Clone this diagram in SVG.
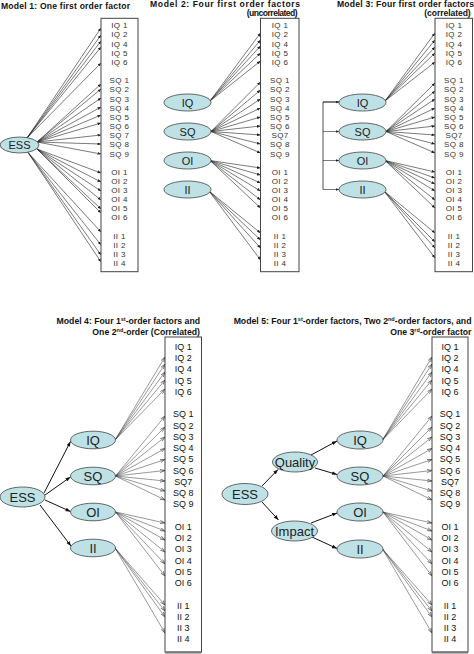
<svg xmlns="http://www.w3.org/2000/svg" width="474" height="654" viewBox="0 0 474 654">
<style>
text{font-family:"Liberation Sans",Arial,sans-serif}
.ttl{font-weight:bold;font-size:8.6px;fill:#111}
.ttl2{font-weight:bold;font-size:8.7px;fill:#111;text-anchor:end}
.lt{font-size:8px;fill:#333;text-anchor:middle;letter-spacing:0.4px}
.lb{font-size:9px;fill:#111;text-anchor:middle}
.et{font-size:11px;fill:#222;text-anchor:middle}
.eb{font-size:13px;fill:#222;text-anchor:middle}
.ell{fill:#bde1e5;stroke:#444;stroke-width:0.8}
.box{fill:#fff;stroke:#444;stroke-width:1}
.c1{stroke:#222;stroke-width:0.6;fill:none;marker-end:url(#mA)}
.c2{stroke:#333;stroke-width:0.5;fill:none;marker-end:url(#mB)}
.c3{stroke:#111;stroke-width:1;fill:none;marker-end:url(#mC)}
.c0{stroke:#222;stroke-width:0.8;fill:none}
</style>
<defs>
<marker id="mA" viewBox="0 0 7 6" refX="7" refY="3" markerWidth="3.5" markerHeight="3" markerUnits="userSpaceOnUse" orient="auto"><path d="M0,0 L7,3 L0,6z" fill="#222"/></marker>
<marker id="mB" viewBox="0 0 8 6" refX="8" refY="3" markerWidth="5" markerHeight="4" markerUnits="userSpaceOnUse" orient="auto"><path d="M0,0.5 L8,3 L0,5.5" fill="none" stroke="#333" stroke-width="1"/></marker>
<marker id="mC" viewBox="0 0 8 6" refX="8" refY="3" markerWidth="5" markerHeight="4" markerUnits="userSpaceOnUse" orient="auto"><path d="M0,0 L8,3 L0,6z" fill="#111"/></marker>
</defs>

<g id="titles">
<text class="ttl" x="1" y="8.7" textLength="129" lengthAdjust="spacing">Model 1: One first order factor</text>
<text class="ttl" x="150" y="6.5" textLength="150" lengthAdjust="spacing">Model 2: Four first order factors</text>
<text class="ttl" x="246.7" y="15.5" textLength="51" lengthAdjust="spacing">(uncorrelated)</text>
<text class="ttl" x="337" y="6.5" textLength="137" lengthAdjust="spacing">Model 3: Four first order factors</text>
<text class="ttl" x="424.3" y="15.5" textLength="46.4" lengthAdjust="spacing">(correlated)</text>
<text class="ttl2" x="200" y="323.8">Model 4: Four 1<tspan font-size="5.5" dy="-3">st</tspan><tspan dy="3">-order factors and</tspan></text>
<text class="ttl2" x="200" y="334.8">One 2<tspan font-size="5.5" dy="-3">nd</tspan><tspan dy="3">-order (Correlated)</tspan></text>
<text class="ttl2" x="471.5" y="323.8">Model 5: Four 1<tspan font-size="5.5" dy="-3">st</tspan><tspan dy="3">-order factors, Two 2</tspan><tspan font-size="5.5" dy="-3">nd</tspan><tspan dy="3">-order factors, and</tspan></text>
<text class="ttl2" x="471.5" y="334.8">One 3<tspan font-size="5.5" dy="-3">rd</tspan><tspan dy="3">-order factor</tspan></text>
</g>

<g id="connectors">
<!-- Model 1 -->
<line class="c1" x1="27" y1="138" x2="101" y2="28"/>
<line class="c1" x1="27" y1="138" x2="101" y2="35"/>
<line class="c1" x1="27" y1="138" x2="101" y2="41"/>
<line class="c1" x1="27" y1="138" x2="101" y2="47"/>
<line class="c1" x1="27" y1="138" x2="101" y2="63"/>
<line class="c1" x1="37" y1="142" x2="101" y2="84"/>
<line class="c1" x1="37" y1="142" x2="101" y2="89"/>
<line class="c1" x1="37" y1="142" x2="101" y2="98"/>
<line class="c1" x1="37" y1="142" x2="101" y2="107"/>
<line class="c1" x1="37" y1="142" x2="101" y2="115"/>
<line class="c1" x1="37" y1="142" x2="101" y2="123"/>
<line class="c1" x1="37" y1="142" x2="101" y2="135"/>
<line class="c1" x1="37" y1="142" x2="101" y2="144"/>
<line class="c1" x1="37" y1="142" x2="101" y2="154"/>
<line class="c1" x1="37" y1="149" x2="101" y2="173"/>
<line class="c1" x1="37" y1="149" x2="101" y2="182"/>
<line class="c1" x1="37" y1="149" x2="101" y2="191"/>
<line class="c1" x1="37" y1="149" x2="101" y2="200"/>
<line class="c1" x1="37" y1="149" x2="101" y2="209"/>
<line class="c1" x1="37" y1="149" x2="101" y2="213"/>
<line class="c1" x1="28" y1="152.5" x2="101" y2="232"/>
<line class="c1" x1="28" y1="152.5" x2="101" y2="245"/>
<line class="c1" x1="28" y1="152.5" x2="101" y2="255"/>
<line class="c1" x1="28" y1="152.5" x2="101" y2="262"/>
<!-- Model 2 -->
<line class="c1" x1="210" y1="101" x2="260.5" y2="33"/>
<line class="c1" x1="210" y1="101" x2="260.5" y2="40"/>
<line class="c1" x1="210" y1="101" x2="260.5" y2="46"/>
<line class="c1" x1="210" y1="101" x2="260.5" y2="53"/>
<line class="c1" x1="210" y1="101" x2="260.5" y2="61"/>
<line class="c1" x1="211" y1="131.5" x2="260.5" y2="82"/>
<line class="c1" x1="211" y1="131.5" x2="260.5" y2="90"/>
<line class="c1" x1="211" y1="131.5" x2="260.5" y2="99"/>
<line class="c1" x1="211" y1="131.5" x2="260.5" y2="108"/>
<line class="c1" x1="211" y1="131.5" x2="260.5" y2="117"/>
<line class="c1" x1="211" y1="131.5" x2="260.5" y2="126"/>
<line class="c1" x1="211" y1="131.5" x2="260.5" y2="135"/>
<line class="c1" x1="211" y1="131.5" x2="260.5" y2="144"/>
<line class="c1" x1="211" y1="131.5" x2="260.5" y2="153"/>
<line class="c1" x1="210" y1="160.5" x2="260.5" y2="168"/>
<line class="c1" x1="210" y1="160.5" x2="260.5" y2="175"/>
<line class="c1" x1="210" y1="160.5" x2="260.5" y2="183"/>
<line class="c1" x1="210" y1="160.5" x2="260.5" y2="191"/>
<line class="c1" x1="210" y1="160.5" x2="260.5" y2="200"/>
<line class="c1" x1="210" y1="160.5" x2="260.5" y2="208"/>
<line class="c1" x1="209" y1="191" x2="260.5" y2="233"/>
<line class="c1" x1="209" y1="191" x2="260.5" y2="240"/>
<line class="c1" x1="209" y1="191" x2="260.5" y2="248"/>
<line class="c1" x1="209" y1="191" x2="260.5" y2="260"/>
<!-- Model 3 -->
<path class="c0" d="M339,102 H323 V189.5"/>
<line class="c1" x1="323" y1="102" x2="339" y2="102"/>
<line class="c1" x1="323" y1="131.5" x2="339" y2="131.5"/>
<line class="c1" x1="323" y1="160.5" x2="339" y2="160.5"/>
<line class="c1" x1="323" y1="189.5" x2="339" y2="189.5"/>
<line class="c1" x1="385" y1="101" x2="435" y2="33"/>
<line class="c1" x1="385" y1="101" x2="435" y2="40"/>
<line class="c1" x1="385" y1="101" x2="435" y2="47"/>
<line class="c1" x1="385" y1="101" x2="435" y2="53"/>
<line class="c1" x1="385" y1="101" x2="435" y2="62"/>
<line class="c1" x1="386" y1="131.5" x2="435" y2="83"/>
<line class="c1" x1="386" y1="131.5" x2="435" y2="91"/>
<line class="c1" x1="386" y1="131.5" x2="435" y2="99"/>
<line class="c1" x1="386" y1="131.5" x2="435" y2="108"/>
<line class="c1" x1="386" y1="131.5" x2="435" y2="117"/>
<line class="c1" x1="386" y1="131.5" x2="435" y2="126"/>
<line class="c1" x1="386" y1="131.5" x2="435" y2="135"/>
<line class="c1" x1="386" y1="131.5" x2="435" y2="144"/>
<line class="c1" x1="386" y1="131.5" x2="435" y2="153"/>
<line class="c1" x1="385" y1="160.5" x2="435" y2="172"/>
<line class="c1" x1="385" y1="160.5" x2="435" y2="178"/>
<line class="c1" x1="385" y1="160.5" x2="435" y2="184"/>
<line class="c1" x1="385" y1="160.5" x2="435" y2="191"/>
<line class="c1" x1="385" y1="160.5" x2="435" y2="200"/>
<line class="c1" x1="385" y1="160.5" x2="435" y2="208"/>
<line class="c1" x1="384" y1="191" x2="435" y2="233"/>
<line class="c1" x1="384" y1="191" x2="435" y2="242"/>
<line class="c1" x1="384" y1="191" x2="435" y2="248"/>
<line class="c1" x1="384" y1="191" x2="435" y2="258"/>
<!-- Model 4 -->
<line class="c3" x1="44" y1="493" x2="70.5" y2="441.5"/>
<line class="c3" x1="45" y1="495" x2="70.5" y2="477"/>
<line class="c3" x1="45" y1="500" x2="70.5" y2="511.5"/>
<line class="c3" x1="40" y1="505" x2="71" y2="546"/>
<line class="c2" x1="115" y1="440" x2="165" y2="357"/>
<line class="c2" x1="115" y1="440" x2="165" y2="364"/>
<line class="c2" x1="115" y1="440" x2="165" y2="372"/>
<line class="c2" x1="115" y1="440" x2="165" y2="380"/>
<line class="c2" x1="115" y1="440" x2="165" y2="389"/>
<line class="c2" x1="115.5" y1="476" x2="165" y2="416"/>
<line class="c2" x1="115.5" y1="476" x2="165" y2="427"/>
<line class="c2" x1="115.5" y1="476" x2="165" y2="437"/>
<line class="c2" x1="115.5" y1="476" x2="165" y2="448.5"/>
<line class="c2" x1="115.5" y1="476" x2="165" y2="459.5"/>
<line class="c2" x1="115.5" y1="476" x2="165" y2="470.5"/>
<line class="c2" x1="115.5" y1="476" x2="165" y2="481"/>
<line class="c2" x1="115.5" y1="476" x2="165" y2="491"/>
<line class="c2" x1="115.5" y1="476" x2="165" y2="500"/>
<line class="c2" x1="115.5" y1="512" x2="165" y2="523"/>
<line class="c2" x1="115.5" y1="512" x2="165" y2="531"/>
<line class="c2" x1="115.5" y1="512" x2="165" y2="540"/>
<line class="c2" x1="115.5" y1="512" x2="165" y2="552"/>
<line class="c2" x1="115.5" y1="512" x2="165" y2="564"/>
<line class="c2" x1="115.5" y1="512" x2="165" y2="576"/>
<line class="c2" x1="115" y1="548" x2="165" y2="605"/>
<line class="c2" x1="115" y1="548" x2="165" y2="611"/>
<line class="c2" x1="115" y1="548" x2="165" y2="617"/>
<line class="c2" x1="115" y1="548" x2="165" y2="633"/>
<!-- Model 5 -->
<line class="c3" x1="262" y1="486" x2="278" y2="469.5"/>
<line class="c3" x1="262" y1="502" x2="278.5" y2="520"/>
<line class="c3" x1="311" y1="455" x2="337" y2="441"/>
<line class="c3" x1="315" y1="468" x2="337" y2="474.5"/>
<line class="c3" x1="311" y1="523" x2="337" y2="513"/>
<line class="c3" x1="312" y1="537" x2="337" y2="548.5"/>
<line class="c2" x1="382.5" y1="440" x2="432" y2="357"/>
<line class="c2" x1="382.5" y1="440" x2="432" y2="364"/>
<line class="c2" x1="382.5" y1="440" x2="432" y2="372"/>
<line class="c2" x1="382.5" y1="440" x2="432" y2="380"/>
<line class="c2" x1="382.5" y1="440" x2="432" y2="389"/>
<line class="c2" x1="383" y1="476" x2="432" y2="416"/>
<line class="c2" x1="383" y1="476" x2="432" y2="427"/>
<line class="c2" x1="383" y1="476" x2="432" y2="437"/>
<line class="c2" x1="383" y1="476" x2="432" y2="448.5"/>
<line class="c2" x1="383" y1="476" x2="432" y2="459.5"/>
<line class="c2" x1="383" y1="476" x2="432" y2="470.5"/>
<line class="c2" x1="383" y1="476" x2="432" y2="481"/>
<line class="c2" x1="383" y1="476" x2="432" y2="491"/>
<line class="c2" x1="383" y1="476" x2="432" y2="500"/>
<line class="c2" x1="383" y1="512" x2="432" y2="523"/>
<line class="c2" x1="383" y1="512" x2="432" y2="531"/>
<line class="c2" x1="383" y1="512" x2="432" y2="540"/>
<line class="c2" x1="383" y1="512" x2="432" y2="552"/>
<line class="c2" x1="383" y1="512" x2="432" y2="564"/>
<line class="c2" x1="383" y1="512" x2="432" y2="576"/>
<line class="c2" x1="382.5" y1="549" x2="432" y2="605"/>
<line class="c2" x1="382.5" y1="549" x2="432" y2="611"/>
<line class="c2" x1="382.5" y1="549" x2="432" y2="617"/>
<line class="c2" x1="382.5" y1="549" x2="432" y2="633"/>
</g>

<!-- Model 1 nodes -->
<g id="m1-ess"><ellipse class="ell" cx="19.5" cy="145" rx="19.5" ry="8"/><text class="et" x="19.5" y="149">ESS</text></g>
<g id="m1-items">
<rect class="box" x="101" y="18.3" width="37" height="253.4"/>
<text class="lt" x="119.5" y="28.4">IQ 1</text><text class="lt" x="119.5" y="37.4">IQ 2</text><text class="lt" x="119.5" y="46.7">IQ 4</text><text class="lt" x="119.5" y="55.9">IQ 5</text><text class="lt" x="119.5" y="64.9">IQ 6</text>
<text class="lt" x="119.5" y="83.4">SQ 1</text><text class="lt" x="119.5" y="92.4">SQ 2</text><text class="lt" x="119.5" y="101.6">SQ 3</text><text class="lt" x="119.5" y="110.7">SQ 4</text><text class="lt" x="119.5" y="119.9">SQ 5</text><text class="lt" x="119.5" y="128.9">SQ 6</text><text class="lt" x="119.5" y="138.2">SQ 7</text><text class="lt" x="119.5" y="147.4">SQ 8</text><text class="lt" x="119.5" y="156.5">SQ 9</text>
<text class="lt" x="119.5" y="175.4">OI 1</text><text class="lt" x="119.5" y="184.4">OI 2</text><text class="lt" x="119.5" y="193.4">OI 3</text><text class="lt" x="119.5" y="202.4">OI 4</text><text class="lt" x="119.5" y="211.4">OI 5</text><text class="lt" x="119.5" y="220.4">OI 6</text>
<text class="lt" x="119.5" y="238.9">II 1</text><text class="lt" x="119.5" y="247.9">II 2</text><text class="lt" x="119.5" y="257.1">II 3</text><text class="lt" x="119.5" y="266.3">II 4</text>
</g>

<!-- Model 2 nodes -->
<g id="m2-iq"><ellipse class="ell" cx="187.5" cy="102.5" rx="23.5" ry="8.5"/><text class="et" x="187.5" y="106.5">IQ</text></g>
<g id="m2-sq"><ellipse class="ell" cx="187.5" cy="131.5" rx="23.5" ry="8.5"/><text class="et" x="187.5" y="135.5">SQ</text></g>
<g id="m2-oi"><ellipse class="ell" cx="187.5" cy="160.5" rx="23.5" ry="8.5"/><text class="et" x="187.5" y="164.5">OI</text></g>
<g id="m2-ii"><ellipse class="ell" cx="187.5" cy="189.5" rx="23.5" ry="8.5"/><text class="et" x="187.5" y="193.5">II</text></g>
<g id="m2-items">
<rect class="box" x="260.5" y="18.3" width="38.5" height="253.4"/>
<text class="lt" x="280" y="28.4">IQ 1</text><text class="lt" x="280" y="37.4">IQ 2</text><text class="lt" x="280" y="46.7">IQ 4</text><text class="lt" x="280" y="55.9">IQ 5</text><text class="lt" x="280" y="64.9">IQ 6</text>
<text class="lt" x="280" y="83.4">SQ 1</text><text class="lt" x="280" y="92.4">SQ 2</text><text class="lt" x="280" y="101.6">SQ 3</text><text class="lt" x="280" y="110.7">SQ 4</text><text class="lt" x="280" y="119.9">SQ 5</text><text class="lt" x="280" y="128.9">SQ 6</text><text class="lt" x="280" y="138.2">SQ7</text><text class="lt" x="280" y="147.4">SQ 8</text><text class="lt" x="280" y="156.5">SQ 9</text>
<text class="lt" x="280" y="175.4">OI 1</text><text class="lt" x="280" y="184.4">OI 2</text><text class="lt" x="280" y="193.4">OI 3</text><text class="lt" x="280" y="202.4">OI 4</text><text class="lt" x="280" y="211.4">OI 5</text><text class="lt" x="280" y="220.4">OI 6</text>
<text class="lt" x="280" y="238.9">II 1</text><text class="lt" x="280" y="247.9">II 2</text><text class="lt" x="280" y="257.1">II 3</text><text class="lt" x="280" y="266.3">II 4</text>
</g>

<!-- Model 3 nodes -->
<g id="m3-iq"><ellipse class="ell" cx="362.5" cy="102.5" rx="23.5" ry="8.5"/><text class="et" x="362.5" y="106.5">IQ</text></g>
<g id="m3-sq"><ellipse class="ell" cx="362.5" cy="131.5" rx="23.5" ry="8.5"/><text class="et" x="362.5" y="135.5">SQ</text></g>
<g id="m3-oi"><ellipse class="ell" cx="362.5" cy="160.5" rx="23.5" ry="8.5"/><text class="et" x="362.5" y="164.5">OI</text></g>
<g id="m3-ii"><ellipse class="ell" cx="362.5" cy="189.5" rx="23.5" ry="8.5"/><text class="et" x="362.5" y="193.5">II</text></g>
<g id="m3-items">
<rect class="box" x="435" y="18.3" width="37.5" height="253.4"/>
<text class="lt" x="454" y="28.4">IQ 1</text><text class="lt" x="454" y="37.4">IQ 2</text><text class="lt" x="454" y="46.7">IQ 4</text><text class="lt" x="454" y="55.9">IQ 5</text><text class="lt" x="454" y="64.9">IQ 6</text>
<text class="lt" x="454" y="83.4">SQ 1</text><text class="lt" x="454" y="92.4">SQ 2</text><text class="lt" x="454" y="101.6">SQ 3</text><text class="lt" x="454" y="110.7">SQ 4</text><text class="lt" x="454" y="119.9">SQ 5</text><text class="lt" x="454" y="128.9">SQ 6</text><text class="lt" x="454" y="138.2">SQ7</text><text class="lt" x="454" y="147.4">SQ 8</text><text class="lt" x="454" y="156.5">SQ 9</text>
<text class="lt" x="454" y="175.4">OI 1</text><text class="lt" x="454" y="184.4">OI 2</text><text class="lt" x="454" y="193.4">OI 3</text><text class="lt" x="454" y="202.4">OI 4</text><text class="lt" x="454" y="211.4">OI 5</text><text class="lt" x="454" y="220.4">OI 6</text>
<text class="lt" x="454" y="238.9">II 1</text><text class="lt" x="454" y="247.9">II 2</text><text class="lt" x="454" y="257.1">II 3</text><text class="lt" x="454" y="266.3">II 4</text>
</g>

<!-- Model 4 nodes -->
<g id="m4-ess"><ellipse class="ell" cx="22.5" cy="497" rx="22.5" ry="10"/><text class="eb" x="22.5" y="501.7">ESS</text></g>
<g id="m4-iq"><ellipse class="ell" cx="93" cy="440" rx="22.5" ry="8.8"/><text class="eb" x="93" y="444.7">IQ</text></g>
<g id="m4-sq"><ellipse class="ell" cx="93" cy="476" rx="22.5" ry="8.8"/><text class="eb" x="93" y="480.7">SQ</text></g>
<g id="m4-oi"><ellipse class="ell" cx="93" cy="512" rx="22.5" ry="8.8"/><text class="eb" x="93" y="516.7">OI</text></g>
<g id="m4-ii"><ellipse class="ell" cx="93" cy="548" rx="22.5" ry="8.8"/><text class="eb" x="93" y="552.7">II</text></g>
<g id="m4-items">
<rect class="box" x="165" y="337" width="36.5" height="315"/>
<line x1="165" y1="652.5" x2="201.5" y2="652.5" stroke="#777" stroke-width="2"/>
<text class="lb" x="183.3" y="349.7">IQ 1</text><text class="lb" x="183.3" y="361">IQ 2</text><text class="lb" x="183.3" y="372.2">IQ 4</text><text class="lb" x="183.3" y="383.5">IQ 5</text><text class="lb" x="183.3" y="394.7">IQ 6</text>
<text class="lb" x="183.3" y="417.2">SQ 1</text><text class="lb" x="183.3" y="428.5">SQ 2</text><text class="lb" x="183.3" y="439.7">SQ 3</text><text class="lb" x="183.3" y="451">SQ 4</text><text class="lb" x="183.3" y="462.2">SQ 5</text><text class="lb" x="183.3" y="473.5">SQ 6</text><text class="lb" x="183.3" y="484.7">SQ7</text><text class="lb" x="183.3" y="496">SQ 8</text><text class="lb" x="183.3" y="507.2">SQ 9</text>
<text class="lb" x="183.3" y="529.7">OI 1</text><text class="lb" x="183.3" y="541">OI 2</text><text class="lb" x="183.3" y="552.2">OI 3</text><text class="lb" x="183.3" y="563.5">OI 4</text><text class="lb" x="183.3" y="574.7">OI 5</text><text class="lb" x="183.3" y="586">OI 6</text>
<text class="lb" x="183.3" y="608.5">II 1</text><text class="lb" x="183.3" y="619.7">II 2</text><text class="lb" x="183.3" y="631">II 3</text><text class="lb" x="183.3" y="642.2">II 4</text>
</g>

<!-- Model 5 nodes -->
<g id="m5-ess"><ellipse class="ell" cx="245" cy="494" rx="23" ry="10.5"/><text class="eb" x="245" y="498.7">ESS</text></g>
<g id="m5-quality"><ellipse class="ell" cx="295" cy="462" rx="22.5" ry="10"/><text class="eb" x="295" y="466.7">Quality</text></g>
<g id="m5-impact"><ellipse class="ell" cx="294.5" cy="531" rx="23" ry="10"/><text class="eb" x="294.5" y="535.7">Impact</text></g>
<g id="m5-iq"><ellipse class="ell" cx="360" cy="440" rx="23" ry="9"/><text class="eb" x="360" y="444.7">IQ</text></g>
<g id="m5-sq"><ellipse class="ell" cx="360" cy="476" rx="23" ry="9"/><text class="eb" x="360" y="480.7">SQ</text></g>
<g id="m5-oi"><ellipse class="ell" cx="360" cy="512" rx="23" ry="9"/><text class="eb" x="360" y="516.7">OI</text></g>
<g id="m5-ii"><ellipse class="ell" cx="360" cy="549" rx="23" ry="9"/><text class="eb" x="360" y="553.7">II</text></g>
<g id="m5-items">
<rect class="box" x="432" y="337" width="36" height="315"/>
<line x1="432" y1="652.5" x2="468" y2="652.5" stroke="#777" stroke-width="2"/>
<text class="lb" x="450" y="349.7">IQ 1</text><text class="lb" x="450" y="361">IQ 2</text><text class="lb" x="450" y="372.2">IQ 4</text><text class="lb" x="450" y="383.5">IQ 5</text><text class="lb" x="450" y="394.7">IQ 6</text>
<text class="lb" x="450" y="417.2">SQ 1</text><text class="lb" x="450" y="428.5">SQ 2</text><text class="lb" x="450" y="439.7">SQ 3</text><text class="lb" x="450" y="451">SQ 4</text><text class="lb" x="450" y="462.2">SQ 5</text><text class="lb" x="450" y="473.5">SQ 6</text><text class="lb" x="450" y="484.7">SQ7</text><text class="lb" x="450" y="496">SQ 8</text><text class="lb" x="450" y="507.2">SQ 9</text>
<text class="lb" x="450" y="529.7">OI 1</text><text class="lb" x="450" y="541">OI 2</text><text class="lb" x="450" y="552.2">OI 3</text><text class="lb" x="450" y="563.5">OI 4</text><text class="lb" x="450" y="574.7">OI 5</text><text class="lb" x="450" y="586">OI 6</text>
<text class="lb" x="450" y="608.5">II 1</text><text class="lb" x="450" y="619.7">II 2</text><text class="lb" x="450" y="631">II 3</text><text class="lb" x="450" y="642.2">II 4</text>
</g>
</svg>
